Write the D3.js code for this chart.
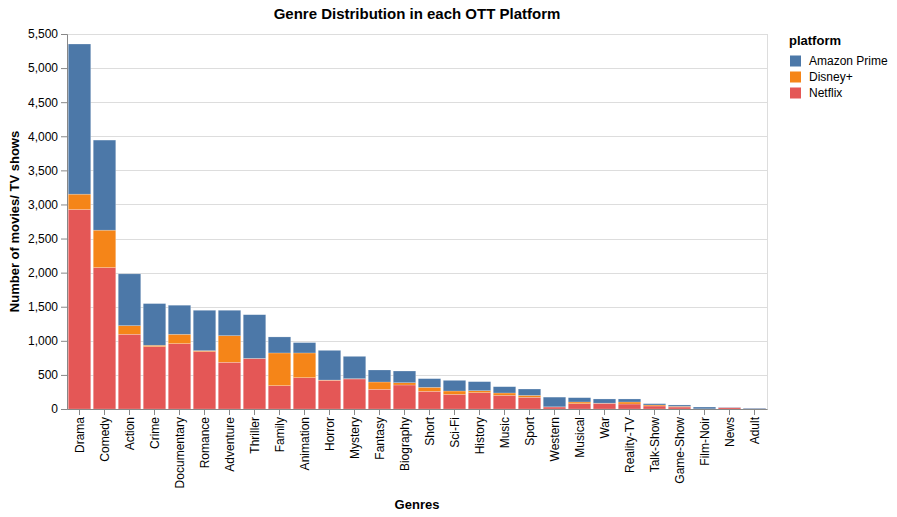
<!DOCTYPE html>
<html>
<head>
<meta charset="utf-8">
<script src="https://cdn.jsdelivr.net/npm/d3@7"></script>
<style>
  body { margin: 0; background: #fff; }
  text { font-family: "Liberation Sans", Arial, sans-serif; }
</style>
</head>
<body>
<div id="chart"></div>
<script>
// genres, sorted by total count
const genres = ["Drama", "Comedy", "Action", "Crime", "Documentary", "Romance", "Adventure",
  "Thriller", "Family", "Animation", "Horror", "Mystery", "Fantasy", "Biography", "Short",
  "Sci-Fi", "History", "Music", "Sport", "Western", "Musical", "War", "Reality-TV",
  "Talk-Show", "Game-Show", "Film-Noir", "News", "Adult"];
const platforms = ["Amazon Prime", "Disney+", "Netflix"];

const netflix = [2926, 2075, 1096, 915, 959, 842, 685, 739, 343, 460, 420, 440, 288, 352, 259,
  215, 240, 200, 171, 30, 78, 83, 73, 44, 29, 2, 20, 4];
const disney = [225, 548, 127, 20, 137, 14, 391, 3, 479, 362, 5, 5, 108, 34, 59,
  49, 29, 35, 29, 2, 25, 3, 30, 15, 10, 0, 0, 0];
const amazon = [2202, 1321, 759, 611, 426, 592, 372, 641, 235, 152, 435, 327, 176, 171, 127,
  156, 132, 92, 93, 142, 63, 61, 44, 19, 20, 27, 4, 10];

const yTicks = d3.range(0, 5501, 500);

const width = 897, height = 517;
const margin = { top: 34, right: 130, bottom: 108, left: 67 };
const plotW = width - margin.left - margin.right;
const plotH = height - margin.top - margin.bottom;

const color = d3.scaleOrdinal()
  .domain(platforms)
  .range(["#4c78a8", "#f58518", "#e45756"]);

const svg = d3.select("#chart")
  .append("svg")
  .attr("width", width)
  .attr("height", height);

const g = svg.append("g")
  .attr("transform", "translate(" + margin.left + "," + margin.top + ")");

const x = d3.scaleBand()
  .domain(genres)
  .range([0, plotW])
  .paddingInner(0.1)
  .paddingOuter(0.05);

const y = d3.scaleLinear()
  .domain([0, 5500])
  .range([plotH, 0]);

// grid
g.append("g")
  .selectAll("line")
  .data(yTicks)
  .enter()
  .append("line")
  .attr("x1", 0)
  .attr("x2", plotW)
  .attr("y1", (d) => Math.round(y(d)) + 0.5)
  .attr("y2", (d) => Math.round(y(d)) + 0.5)
  .style("stroke", "#ddd");

g.append("rect")
  .attr("x", 0.5)
  .attr("y", 0.5)
  .attr("width", plotW)
  .attr("height", plotH)
  .style("fill", "none")
  .style("stroke", "#ddd");

// stack: Netflix at bottom, then Disney+, then Amazon Prime
const rows = genres.map((name, i) => ({
  genre: name,
  "Netflix": netflix[i],
  "Disney+": disney[i],
  "Amazon Prime": amazon[i],
}));
const stacked = d3.stack().keys(["Netflix", "Disney+", "Amazon Prime"])(rows);

g.append("g")
  .selectAll("g")
  .data(stacked)
  .enter()
  .append("g")
  .style("fill", (d) => color(d.key))
  .selectAll("rect")
  .data((d) => d)
  .enter()
  .append("rect")
  .attr("x", (d) => x(d.data.genre))
  .attr("width", x.bandwidth())
  .attr("y", (d) => y(d[1]))
  .attr("height", (d) => y(d[0]) - y(d[1]))
  .style("stroke", "#ffffff")
  .style("stroke-opacity", 0.35)
  .style("stroke-width", 0.6);

// y axis
const yAxis = g.append("g")
  .call(d3.axisLeft(y).tickValues(yTicks).tickFormat(d3.format(",")).tickSize(6).tickPadding(3));
yAxis.select(".domain").style("stroke", "#888");
yAxis.selectAll(".tick line").style("stroke", "#888");
yAxis.selectAll("text").style("font-size", "12px").style("fill", "#000");

// x axis
const xAxis = g.append("g")
  .attr("transform", "translate(0," + plotH + ")")
  .call(d3.axisBottom(x).tickSize(6).tickSizeOuter(0));
xAxis.select(".domain").style("stroke", "#888");
xAxis.selectAll(".tick line").style("stroke", "#888");
xAxis.selectAll("text")
  .style("font-size", "12px")
  .style("fill", "#000")
  .attr("text-anchor", "end")
  .attr("dy", "0.35em")
  .attr("transform", "translate(0,8) rotate(-90)")
  .attr("x", 0)
  .attr("y", 0);

// titles
svg.append("text")
  .attr("x", margin.left + plotW / 2)
  .attr("y", 19)
  .attr("text-anchor", "middle")
  .style("font-size", "15px")
  .style("font-weight", "bold")
  .text("Genre Distribution in each OTT Platform");

svg.append("text")
  .attr("x", margin.left + plotW / 2)
  .attr("y", 509)
  .attr("text-anchor", "middle")
  .style("font-size", "13px")
  .style("font-weight", "bold")
  .text("Genres");

svg.append("text")
  .attr("transform", "translate(19," + (margin.top + plotH / 2) + ") rotate(-90)")
  .attr("text-anchor", "middle")
  .style("font-size", "13px")
  .style("font-weight", "bold")
  .text("Number of movies/ TV shows");

// legend
const legend = svg.append("g").attr("transform", "translate(789,0)");
legend.append("text")
  .attr("x", 0)
  .attr("y", 45)
  .style("font-size", "13px")
  .style("font-weight", "bold")
  .text("platform");

const item = legend.selectAll(".item")
  .data(platforms)
  .enter()
  .append("g")
  .attr("transform", (d, i) => "translate(0," + (61 + i * 16) + ")");
item.append("rect")
  .attr("x", 1)
  .attr("y", -5.5)
  .attr("width", 11)
  .attr("height", 11)
  .style("fill", (d) => color(d));
item.append("text")
  .attr("x", 20)
  .attr("dy", "0.35em")
  .style("font-size", "12px")
  .text((d) => d);
</script>
</body>
</html>
